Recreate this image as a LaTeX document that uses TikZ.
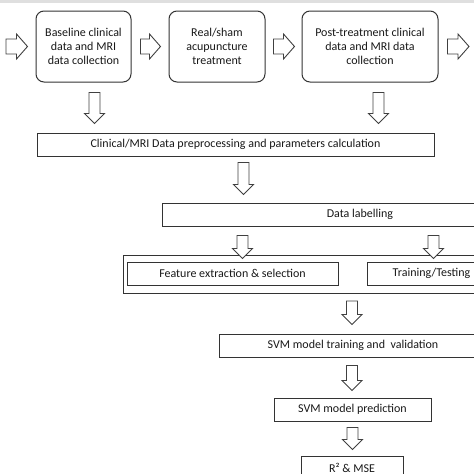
\documentclass[tikz,border=0pt]{standalone}
\usepackage{fontspec}
\setmainfont{Carlito}
\usetikzlibrary{calc}
\begin{document}
\begin{tikzpicture}[x=1pt,y=-1pt,
  box/.style={draw=black!80, line width=1pt, fill=white, inner sep=0pt,
    font=\fontsize{12}{14}\selectfont, text=black!90, align=center, minimum height=23pt},
  rbox/.style={box, rounded corners=8pt, minimum height=71pt},
  arr/.style={draw=black!75, line width=0.9pt, fill=white, line join=miter},
  blockdown/.style={arr, to path={let \p1=(\tikztostart), \p2=(\tikztotarget) in
    (\x1-5.5pt,\y1) -- (\x1+5.5pt,\y1) -- (\x1+5.5pt,\y2+10pt) -- (\x1+10pt,\y2+10pt)
    -- (\x1,\y2) -- (\x1-10pt,\y2+10pt) -- (\x1-5.5pt,\y2+10pt) -- cycle}},
  blockright/.style={arr, to path={let \p1=(\tikztostart), \p2=(\tikztotarget) in
    (\x1,\y1+7.5pt) -- (\x2-11pt,\y1+7.5pt) -- (\x2-11pt,\y1+12.5pt) -- (\x2,\y1)
    -- (\x2-11pt,\y1-12.5pt) -- (\x2-11pt,\y1-7.5pt) -- (\x1,\y1-7.5pt) -- cycle}}
]
\useasboundingbox (0,0) rectangle (474,474);
\clip (0,0) rectangle (474,474);
\fill[gray!25] (0,0) rectangle (474,2.5);

% top row
\node[rbox, minimum width=95pt] (b1) at (83.5,46.5) {Baseline clinical\\data and MRI\\data collection};
\node[rbox, minimum width=96pt] (b2) at (217,46.5) {Real/sham\\acupuncture\\treatment};
\node[rbox, minimum width=136pt] (b3) at (370,46.5) {Post-treatment clinical\\data and MRI data\\collection};

\node[box, minimum width=397pt] (pre) at (235.5,144.5) {Clinical/MRI Data preprocessing and parameters calculation};
\node[box, minimum width=396pt] (lab) at (360,214.5) {Data labelling};

\node[box, minimum width=390pt, minimum height=38pt, anchor=north west] (outer) at (123,255) {};
\node[box, minimum width=211pt] (feat) at (232.5,273.5) {Feature extraction \& selection};
\node[box, minimum width=129pt] (train) at (431.5,273.5) {Training/Testing};

\node[box, minimum width=268pt] (svmt) at (353,345.5) {SVM model training and\ \ validation};
\node[box, minimum width=157pt] (pred) at (352.5,409.5) {SVM model prediction};
\node[box, minimum width=102pt] (r2) at (352,467.5) {R² \& MSE};

\coordinate (in) at (6,46.5);
\coordinate (out) at (469,46.5);

% horizontal arrows
\draw[blockright] (in) to ([xshift=-8pt]b1.west);
\draw[blockright] ([xshift=9pt]b1.east) to ([xshift=-8pt]b2.west);
\draw[blockright] ([xshift=8pt]b2.east) to ([xshift=-7pt]b3.west);
\draw[blockright] ([xshift=9pt]b3.east) to (out);

% down arrows
\draw[blockdown] ($(b1.south)+(11pt,-10pt)$) to ([yshift=9pt]pre.north);
\draw[blockdown] ($(b3.south)+(8.5pt,-10pt)$) to ([yshift=9pt]pre.north);
\draw[blockdown] ($(pre.south)+(8pt,-6pt)$) to ([yshift=8pt]lab.north);
\draw[blockdown] ($(lab.south -| feat.south)+(10pt,-9pt)$) to ([yshift=3pt]feat.north);
\draw[blockdown] ($(lab.south -| train.south)+(2pt,-9pt)$) to ([yshift=3pt]train.north);
\draw[blockdown] ($(outer.south -| svmt.south)+(-1pt,-7pt)$) to ([yshift=9pt]svmt.north);
\draw[blockdown] ($(svmt.south)+(-1pt,-8pt)$) to ([yshift=7pt]pred.north);
\draw[blockdown] ($(pred.south)+(0pt,-6pt)$) to ([yshift=6pt]r2.north);
\end{tikzpicture}
\end{document}
